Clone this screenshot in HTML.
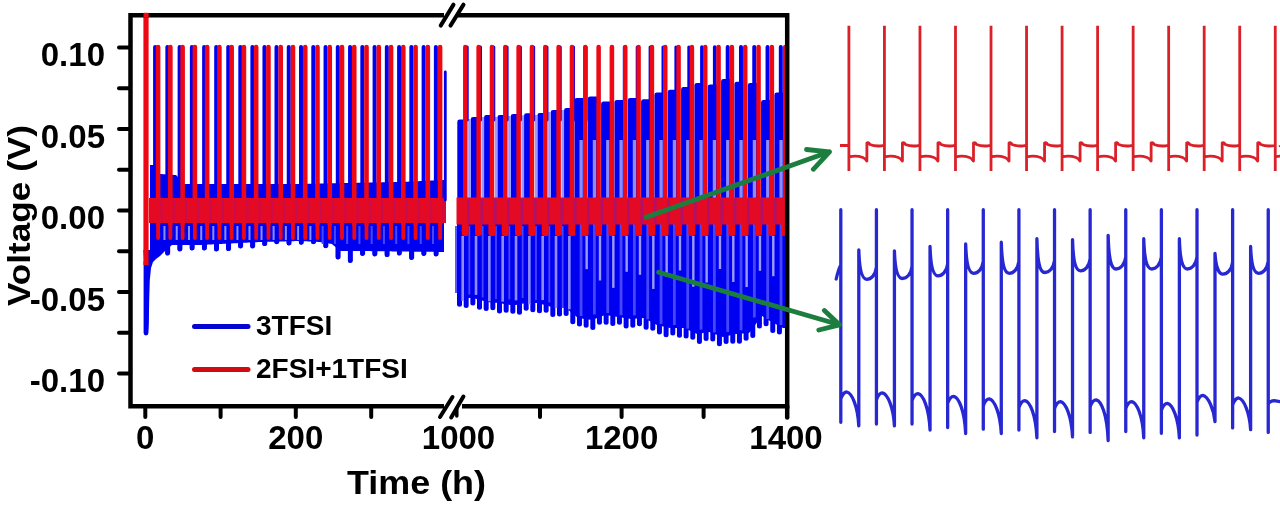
<!DOCTYPE html>
<html><head><meta charset="utf-8"><title>Voltage vs Time</title>
<style>html,body{margin:0;padding:0;background:#fff;} svg{display:block;}</style></head>
<body>
<svg width="1280" height="516" viewBox="0 0 1280 516">
<rect width="1280" height="516" fill="#fff"/>
<path d="M150,165 L151,165 L152,165 L153,165 L154,165 L155,165 L156,165 L157,165 L158,168 L159,171 L160,174 L161,174.06 L162,174.12 L163,174.19 L164,174.25 L165,174.31 L166,174.38 L167,174.44 L168,174.5 L169,174.56 L170,174.62 L171,174.69 L172,174.75 L173,174.81 L174,174.88 L175,174.94 L176,175 L177,176.12 L178,177.25 L179,178.38 L180,179.5 L181,180.62 L182,181.75 L183,182.88 L184,184 L185,184 L186,184 L187,184 L188,184 L189,184 L190,184 L191,184 L192,184 L193,184 L194,184 L195,184 L196,184 L197,184 L198,184 L199,184 L200,184 L201,184 L202,184 L203,184 L204,184 L205,184 L206,184 L207,184 L208,184 L209,184 L210,184 L211,184 L212,184 L213,184 L214,184 L215,184 L216,184 L217,184 L218,184 L219,184 L220,184 L221,184 L222,184 L223,184 L224,184 L225,184 L226,184 L227,184 L228,184 L229,184 L230,184 L231,184 L232,184 L233,184 L234,184 L235,184 L236,184 L237,184 L238,184 L239,184 L240,184 L241,184 L242,184 L243,184 L244,184 L245,184 L246,184 L247,184 L248,184 L249,184 L250,184 L251,184 L252,184 L253,184 L254,184 L255,184 L256,184 L257,184 L258,184 L259,184 L260,184 L261,184 L262,184 L263,184 L264,184 L265,184 L266,184 L267,184 L268,184 L269,184 L270,184 L271,184 L272,184 L273,184 L274,184 L275,184 L276,184 L277,184 L278,184 L279,184 L280,184 L281,184 L282,184 L283,184 L284,184 L285,184 L286,184 L287,184 L288,184 L289,184 L290,184 L291,184 L292,184 L293,184 L294,184 L295,184 L296,184 L297,184 L298,184 L299,184 L300,184 L301,183.98 L302,183.96 L303,183.94 L304,183.92 L305,183.9 L306,183.88 L307,183.86 L308,183.84 L309,183.82 L310,183.8 L311,183.78 L312,183.76 L313,183.74 L314,183.72 L315,183.7 L316,183.68 L317,183.66 L318,183.64 L319,183.62 L320,183.6 L321,183.58 L322,183.56 L323,183.54 L324,183.52 L325,183.5 L326,183.48 L327,183.46 L328,183.44 L329,183.42 L330,183.4 L331,183.38 L332,183.36 L333,183.34 L334,183.32 L335,183.3 L336,183.28 L337,183.26 L338,183.24 L339,183.22 L340,183.2 L341,183.18 L342,183.16 L343,183.14 L344,183.12 L345,183.1 L346,183.08 L347,183.06 L348,183.04 L349,183.02 L350,183 L351,182.98 L352,182.96 L353,182.94 L354,182.92 L355,182.9 L356,182.88 L357,182.86 L358,182.84 L359,182.82 L360,182.8 L361,182.78 L362,182.76 L363,182.74 L364,182.72 L365,182.7 L366,182.68 L367,182.66 L368,182.64 L369,182.62 L370,182.6 L371,182.58 L372,182.56 L373,182.54 L374,182.52 L375,182.5 L376,182.48 L377,182.46 L378,182.44 L379,182.42 L380,182.4 L381,182.38 L382,182.36 L383,182.34 L384,182.32 L385,182.3 L386,182.28 L387,182.26 L388,182.24 L389,182.22 L390,182.2 L391,182.18 L392,182.16 L393,182.14 L394,182.12 L395,182.1 L396,182.08 L397,182.06 L398,182.04 L399,182.02 L400,182 L401,181.96 L402,181.91 L403,181.87 L404,181.82 L405,181.78 L406,181.73 L407,181.69 L408,181.64 L409,181.6 L410,181.56 L411,181.51 L412,181.47 L413,181.42 L414,181.38 L415,181.33 L416,181.29 L417,181.24 L418,181.2 L419,181.16 L420,181.11 L421,181.07 L422,181.02 L423,180.98 L424,180.93 L425,180.89 L426,180.84 L427,180.8 L428,180.76 L429,180.71 L430,180.67 L431,180.62 L432,180.58 L433,180.53 L434,180.49 L435,180.44 L436,180.4 L437,180.36 L438,180.31 L439,180.27 L440,180.22 L441,180.18 L442,180.13 L443,180.09 L444,180.04 L444,251.99 L443,251.98 L442,251.96 L441,251.95 L440,251.94 L439,251.93 L438,251.92 L437,251.91 L436,251.89 L435,251.88 L434,251.87 L433,251.86 L432,251.85 L431,251.84 L430,251.82 L429,251.81 L428,251.8 L427,251.79 L426,251.78 L425,251.76 L424,251.75 L423,251.74 L422,251.73 L421,251.72 L420,251.71 L419,251.69 L418,251.68 L417,251.67 L416,251.66 L415,251.65 L414,251.64 L413,251.62 L412,251.61 L411,251.6 L410,251.59 L409,251.58 L408,251.56 L407,251.55 L406,251.54 L405,251.53 L404,251.52 L403,251.51 L402,251.49 L401,251.48 L400,251.47 L399,251.46 L398,251.45 L397,251.44 L396,251.42 L395,251.41 L394,251.4 L393,251.39 L392,251.38 L391,251.36 L390,251.35 L389,251.34 L388,251.33 L387,251.32 L386,251.31 L385,251.29 L384,251.28 L383,251.27 L382,251.26 L381,251.25 L380,251.24 L379,251.22 L378,251.21 L377,251.2 L376,251.19 L375,251.18 L374,251.16 L373,251.15 L372,251.14 L371,251.13 L370,251.12 L369,251.11 L368,251.09 L367,251.08 L366,251.07 L365,251.06 L364,251.05 L363,251.04 L362,251.02 L361,251.01 L360,251 L359,251 L358,251 L357,251 L356,251 L355,251 L354,251 L353,251 L352,251 L351,251 L350,251 L349,251 L348,251 L347,251 L346,251 L345,251 L344,251 L343,251 L342,251 L341,251 L340,251 L339,250.12 L338,249.25 L337,248.38 L336,247.5 L335,246.62 L334,245.75 L333,244.88 L332,244 L331,243.83 L330,243.67 L329,243.5 L328,243.33 L327,243.17 L326,243 L325,242.83 L324,242.67 L323,242.5 L322,242.33 L321,242.17 L320,242 L319,241.95 L318,241.9 L317,241.85 L316,241.8 L315,241.75 L314,241.7 L313,241.65 L312,241.6 L311,241.55 L310,241.5 L309,241.45 L308,241.4 L307,241.35 L306,241.3 L305,241.25 L304,241.2 L303,241.15 L302,241.1 L301,241.05 L300,241 L299,241.03 L298,241.05 L297,241.07 L296,241.1 L295,241.12 L294,241.15 L293,241.18 L292,241.2 L291,241.22 L290,241.25 L289,241.28 L288,241.3 L287,241.32 L286,241.35 L285,241.38 L284,241.4 L283,241.43 L282,241.45 L281,241.47 L280,241.5 L279,241.53 L278,241.55 L277,241.57 L276,241.6 L275,241.62 L274,241.65 L273,241.68 L272,241.7 L271,241.72 L270,241.75 L269,241.78 L268,241.8 L267,241.82 L266,241.85 L265,241.88 L264,241.9 L263,241.93 L262,241.95 L261,241.97 L260,242 L259,242.05 L258,242.1 L257,242.15 L256,242.2 L255,242.25 L254,242.3 L253,242.35 L252,242.4 L251,242.45 L250,242.5 L249,242.55 L248,242.6 L247,242.65 L246,242.7 L245,242.75 L244,242.8 L243,242.85 L242,242.9 L241,242.95 L240,243 L239,243.05 L238,243.1 L237,243.15 L236,243.2 L235,243.25 L234,243.3 L233,243.35 L232,243.4 L231,243.45 L230,243.5 L229,243.55 L228,243.6 L227,243.65 L226,243.7 L225,243.75 L224,243.8 L223,243.85 L222,243.9 L221,243.95 L220,244 L219,244.05 L218,244.1 L217,244.15 L216,244.2 L215,244.25 L214,244.3 L213,244.35 L212,244.4 L211,244.45 L210,244.5 L209,244.55 L208,244.6 L207,244.65 L206,244.7 L205,244.75 L204,244.8 L203,244.85 L202,244.9 L201,244.95 L200,245 L199,245 L198,245 L197,245 L196,245 L195,245 L194,245 L193,245 L192,245 L191,245 L190,245 L189,245 L188,245 L187,245 L186,245 L185,245 L184,245 L183,245 L182,245 L181,245 L180,245 L179,245 L178,245 L177,245 L176,245 L175,245 L174,245 L173,245 L172,245 L171,245.83 L170,246.67 L169,247.5 L168,248.33 L167,249.17 L166,250 L165,251 L164,252 L163,253 L162,254 L161,255 L160,256 L159,256.1 L158,256.2 L157,256.3 L156,256.4 L155,256.5 L154,256.6 L153,256.7 L152,256.8 L151,256.9 L150,257Z" fill="#0000f0"/>
<line x1="155.1" y1="47" x2="155.1" y2="254.5" stroke="#0000f0" stroke-width="4" stroke-linecap="round"/>
<line x1="155.4" y1="236" x2="155.4" y2="253.8" stroke="#0000f0" stroke-width="5" stroke-linecap="round"/>
<line x1="167.36" y1="47" x2="167.36" y2="253.5" stroke="#0000f0" stroke-width="4" stroke-linecap="round"/>
<line x1="167.66" y1="236" x2="167.66" y2="252.8" stroke="#0000f0" stroke-width="5" stroke-linecap="round"/>
<line x1="179.62" y1="47" x2="179.62" y2="249.5" stroke="#0000f0" stroke-width="4" stroke-linecap="round"/>
<line x1="179.92" y1="236" x2="179.92" y2="248.8" stroke="#0000f0" stroke-width="5" stroke-linecap="round"/>
<line x1="191.88" y1="47" x2="191.88" y2="248.5" stroke="#0000f0" stroke-width="4" stroke-linecap="round"/>
<line x1="192.18" y1="236" x2="192.18" y2="247.8" stroke="#0000f0" stroke-width="5" stroke-linecap="round"/>
<line x1="204.14" y1="47" x2="204.14" y2="248.5" stroke="#0000f0" stroke-width="4" stroke-linecap="round"/>
<line x1="204.44" y1="236" x2="204.44" y2="247.8" stroke="#0000f0" stroke-width="5" stroke-linecap="round"/>
<line x1="216.2" y1="47" x2="216.2" y2="249.5" stroke="#0000f0" stroke-width="4" stroke-linecap="round"/>
<line x1="216.5" y1="236" x2="216.5" y2="248.8" stroke="#0000f0" stroke-width="5" stroke-linecap="round"/>
<line x1="228.26" y1="47" x2="228.26" y2="249.1" stroke="#0000f0" stroke-width="4" stroke-linecap="round"/>
<line x1="228.56" y1="236" x2="228.56" y2="248.4" stroke="#0000f0" stroke-width="5" stroke-linecap="round"/>
<line x1="240.32" y1="47" x2="240.32" y2="246.5" stroke="#0000f0" stroke-width="4" stroke-linecap="round"/>
<line x1="240.62" y1="236" x2="240.62" y2="245.8" stroke="#0000f0" stroke-width="5" stroke-linecap="round"/>
<line x1="252.38" y1="47" x2="252.38" y2="246.5" stroke="#0000f0" stroke-width="4" stroke-linecap="round"/>
<line x1="252.68" y1="236" x2="252.68" y2="245.8" stroke="#0000f0" stroke-width="5" stroke-linecap="round"/>
<line x1="264.44" y1="47" x2="264.44" y2="244.1" stroke="#0000f0" stroke-width="4" stroke-linecap="round"/>
<line x1="264.74" y1="236" x2="264.74" y2="243.4" stroke="#0000f0" stroke-width="5" stroke-linecap="round"/>
<line x1="276.5" y1="47" x2="276.5" y2="242.3" stroke="#0000f0" stroke-width="4" stroke-linecap="round"/>
<line x1="276.8" y1="236" x2="276.8" y2="241.6" stroke="#0000f0" stroke-width="5" stroke-linecap="round"/>
<line x1="288.76" y1="47" x2="288.76" y2="243.5" stroke="#0000f0" stroke-width="4" stroke-linecap="round"/>
<line x1="289.06" y1="236" x2="289.06" y2="242.8" stroke="#0000f0" stroke-width="5" stroke-linecap="round"/>
<line x1="301.02" y1="47" x2="301.02" y2="242.8" stroke="#0000f0" stroke-width="4" stroke-linecap="round"/>
<line x1="301.32" y1="236" x2="301.32" y2="242.1" stroke="#0000f0" stroke-width="5" stroke-linecap="round"/>
<line x1="313.28" y1="47" x2="313.28" y2="242.2" stroke="#0000f0" stroke-width="4" stroke-linecap="round"/>
<line x1="313.58" y1="236" x2="313.58" y2="241.5" stroke="#0000f0" stroke-width="5" stroke-linecap="round"/>
<line x1="325.54" y1="47" x2="325.54" y2="246.3" stroke="#0000f0" stroke-width="4" stroke-linecap="round"/>
<line x1="325.84" y1="236" x2="325.84" y2="245.6" stroke="#0000f0" stroke-width="5" stroke-linecap="round"/>
<line x1="337.8" y1="47" x2="337.8" y2="257.5" stroke="#0000f0" stroke-width="4" stroke-linecap="round"/>
<line x1="338.1" y1="236" x2="338.1" y2="256.8" stroke="#0000f0" stroke-width="5" stroke-linecap="round"/>
<line x1="350.06" y1="47" x2="350.06" y2="261" stroke="#0000f0" stroke-width="4" stroke-linecap="round"/>
<line x1="350.36" y1="236" x2="350.36" y2="260.3" stroke="#0000f0" stroke-width="5" stroke-linecap="round"/>
<line x1="362.32" y1="47" x2="362.32" y2="253.9" stroke="#0000f0" stroke-width="4" stroke-linecap="round"/>
<line x1="362.62" y1="236" x2="362.62" y2="253.2" stroke="#0000f0" stroke-width="5" stroke-linecap="round"/>
<line x1="374.58" y1="47" x2="374.58" y2="254.5" stroke="#0000f0" stroke-width="4" stroke-linecap="round"/>
<line x1="374.88" y1="236" x2="374.88" y2="253.8" stroke="#0000f0" stroke-width="5" stroke-linecap="round"/>
<line x1="386.84" y1="47" x2="386.84" y2="255.1" stroke="#0000f0" stroke-width="4" stroke-linecap="round"/>
<line x1="387.14" y1="236" x2="387.14" y2="254.4" stroke="#0000f0" stroke-width="5" stroke-linecap="round"/>
<line x1="399.1" y1="47" x2="399.1" y2="253.5" stroke="#0000f0" stroke-width="4" stroke-linecap="round"/>
<line x1="399.4" y1="236" x2="399.4" y2="252.8" stroke="#0000f0" stroke-width="5" stroke-linecap="round"/>
<line x1="411.36" y1="47" x2="411.36" y2="258" stroke="#0000f0" stroke-width="4" stroke-linecap="round"/>
<line x1="411.66" y1="236" x2="411.66" y2="257.3" stroke="#0000f0" stroke-width="5" stroke-linecap="round"/>
<line x1="423.62" y1="47" x2="423.62" y2="253.9" stroke="#0000f0" stroke-width="4" stroke-linecap="round"/>
<line x1="423.92" y1="236" x2="423.92" y2="253.2" stroke="#0000f0" stroke-width="5" stroke-linecap="round"/>
<line x1="435.88" y1="47" x2="435.88" y2="254.5" stroke="#0000f0" stroke-width="4" stroke-linecap="round"/>
<line x1="436.18" y1="236" x2="436.18" y2="253.8" stroke="#0000f0" stroke-width="5" stroke-linecap="round"/>
<rect x="163.46" y="226" width="2" height="14" fill="#8c8cff"/>
<rect x="175.72" y="226" width="2" height="14" fill="#8c8cff"/>
<rect x="187.98" y="226" width="2" height="14" fill="#8c8cff"/>
<rect x="200.24" y="226" width="2" height="14" fill="#8c8cff"/>
<rect x="212.3" y="226" width="2" height="14" fill="#8c8cff"/>
<rect x="224.36" y="226" width="2" height="14" fill="#8c8cff"/>
<rect x="236.42" y="226" width="2" height="14" fill="#8c8cff"/>
<rect x="248.48" y="226" width="2" height="14" fill="#8c8cff"/>
<rect x="260.54" y="226" width="2" height="14" fill="#8c8cff"/>
<rect x="272.6" y="226" width="2" height="14" fill="#8c8cff"/>
<rect x="284.86" y="226" width="2" height="14" fill="#8c8cff"/>
<rect x="297.12" y="226" width="2" height="14" fill="#8c8cff"/>
<rect x="309.38" y="226" width="2" height="14" fill="#8c8cff"/>
<rect x="321.64" y="226" width="2" height="18" fill="#4646ff"/>
<rect x="333.9" y="226" width="2" height="18" fill="#4646ff"/>
<rect x="346.16" y="226" width="2" height="18" fill="#4646ff"/>
<rect x="358.42" y="226" width="2" height="18" fill="#4646ff"/>
<rect x="370.68" y="226" width="2" height="18" fill="#4646ff"/>
<rect x="382.94" y="226" width="2" height="18" fill="#4646ff"/>
<rect x="395.2" y="226" width="2" height="18" fill="#4646ff"/>
<rect x="407.46" y="226" width="2" height="18" fill="#4646ff"/>
<rect x="419.72" y="226" width="2" height="18" fill="#4646ff"/>
<rect x="431.98" y="226" width="2" height="18" fill="#4646ff"/>
<line x1="158.1" y1="47" x2="158.1" y2="224" stroke="#ee0814" stroke-width="4.6" stroke-linecap="round"/>
<line x1="158.1" y1="222" x2="158.1" y2="238" stroke="#ee0814" stroke-width="3.8" stroke-linecap="round"/>
<line x1="170.36" y1="47" x2="170.36" y2="224" stroke="#ee0814" stroke-width="4.6" stroke-linecap="round"/>
<line x1="170.36" y1="222" x2="170.36" y2="238" stroke="#ee0814" stroke-width="3.8" stroke-linecap="round"/>
<line x1="182.62" y1="47" x2="182.62" y2="224" stroke="#ee0814" stroke-width="4.6" stroke-linecap="round"/>
<line x1="182.62" y1="222" x2="182.62" y2="238" stroke="#ee0814" stroke-width="3.8" stroke-linecap="round"/>
<line x1="194.88" y1="47" x2="194.88" y2="224" stroke="#ee0814" stroke-width="4.6" stroke-linecap="round"/>
<line x1="194.88" y1="222" x2="194.88" y2="238" stroke="#ee0814" stroke-width="3.8" stroke-linecap="round"/>
<line x1="207.14" y1="47" x2="207.14" y2="224" stroke="#ee0814" stroke-width="4.6" stroke-linecap="round"/>
<line x1="207.14" y1="222" x2="207.14" y2="238" stroke="#ee0814" stroke-width="3.8" stroke-linecap="round"/>
<line x1="219.4" y1="47" x2="219.4" y2="224" stroke="#ee0814" stroke-width="4.6" stroke-linecap="round"/>
<line x1="219.4" y1="222" x2="219.4" y2="238" stroke="#ee0814" stroke-width="3.8" stroke-linecap="round"/>
<line x1="231.66" y1="47" x2="231.66" y2="224" stroke="#ee0814" stroke-width="4.6" stroke-linecap="round"/>
<line x1="231.66" y1="222" x2="231.66" y2="238" stroke="#ee0814" stroke-width="3.8" stroke-linecap="round"/>
<line x1="243.92" y1="47" x2="243.92" y2="224" stroke="#ee0814" stroke-width="4.6" stroke-linecap="round"/>
<line x1="243.92" y1="222" x2="243.92" y2="238" stroke="#ee0814" stroke-width="3.8" stroke-linecap="round"/>
<line x1="256.18" y1="47" x2="256.18" y2="224" stroke="#ee0814" stroke-width="4.6" stroke-linecap="round"/>
<line x1="256.18" y1="222" x2="256.18" y2="238" stroke="#ee0814" stroke-width="3.8" stroke-linecap="round"/>
<line x1="268.44" y1="47" x2="268.44" y2="224" stroke="#ee0814" stroke-width="4.6" stroke-linecap="round"/>
<line x1="268.44" y1="222" x2="268.44" y2="238" stroke="#ee0814" stroke-width="3.8" stroke-linecap="round"/>
<line x1="280.7" y1="47" x2="280.7" y2="224" stroke="#ee0814" stroke-width="4.6" stroke-linecap="round"/>
<line x1="280.7" y1="222" x2="280.7" y2="238" stroke="#ee0814" stroke-width="3.8" stroke-linecap="round"/>
<line x1="292.96" y1="47" x2="292.96" y2="224" stroke="#ee0814" stroke-width="4.6" stroke-linecap="round"/>
<line x1="292.96" y1="222" x2="292.96" y2="238" stroke="#ee0814" stroke-width="3.8" stroke-linecap="round"/>
<line x1="305.22" y1="47" x2="305.22" y2="224" stroke="#ee0814" stroke-width="4.6" stroke-linecap="round"/>
<line x1="305.22" y1="222" x2="305.22" y2="238" stroke="#ee0814" stroke-width="3.8" stroke-linecap="round"/>
<line x1="317.48" y1="47" x2="317.48" y2="224" stroke="#ee0814" stroke-width="4.6" stroke-linecap="round"/>
<line x1="317.48" y1="222" x2="317.48" y2="238" stroke="#ee0814" stroke-width="3.8" stroke-linecap="round"/>
<line x1="329.74" y1="47" x2="329.74" y2="224" stroke="#ee0814" stroke-width="4.6" stroke-linecap="round"/>
<line x1="329.74" y1="222" x2="329.74" y2="238" stroke="#ee0814" stroke-width="3.8" stroke-linecap="round"/>
<line x1="342" y1="47" x2="342" y2="224" stroke="#ee0814" stroke-width="4.6" stroke-linecap="round"/>
<line x1="342" y1="222" x2="342" y2="238" stroke="#ee0814" stroke-width="3.8" stroke-linecap="round"/>
<line x1="354.26" y1="47" x2="354.26" y2="224" stroke="#ee0814" stroke-width="4.6" stroke-linecap="round"/>
<line x1="354.26" y1="222" x2="354.26" y2="238" stroke="#ee0814" stroke-width="3.8" stroke-linecap="round"/>
<line x1="366.52" y1="47" x2="366.52" y2="224" stroke="#ee0814" stroke-width="4.6" stroke-linecap="round"/>
<line x1="366.52" y1="222" x2="366.52" y2="238" stroke="#ee0814" stroke-width="3.8" stroke-linecap="round"/>
<line x1="378.78" y1="47" x2="378.78" y2="224" stroke="#ee0814" stroke-width="4.6" stroke-linecap="round"/>
<line x1="378.78" y1="222" x2="378.78" y2="238" stroke="#ee0814" stroke-width="3.8" stroke-linecap="round"/>
<line x1="391.04" y1="47" x2="391.04" y2="224" stroke="#ee0814" stroke-width="4.6" stroke-linecap="round"/>
<line x1="391.04" y1="222" x2="391.04" y2="238" stroke="#ee0814" stroke-width="3.8" stroke-linecap="round"/>
<line x1="403.3" y1="47" x2="403.3" y2="224" stroke="#ee0814" stroke-width="4.6" stroke-linecap="round"/>
<line x1="403.3" y1="222" x2="403.3" y2="238" stroke="#ee0814" stroke-width="3.8" stroke-linecap="round"/>
<line x1="415.56" y1="47" x2="415.56" y2="224" stroke="#ee0814" stroke-width="4.6" stroke-linecap="round"/>
<line x1="415.56" y1="222" x2="415.56" y2="238" stroke="#ee0814" stroke-width="3.8" stroke-linecap="round"/>
<line x1="427.82" y1="47" x2="427.82" y2="224" stroke="#ee0814" stroke-width="4.6" stroke-linecap="round"/>
<line x1="427.82" y1="222" x2="427.82" y2="238" stroke="#ee0814" stroke-width="3.8" stroke-linecap="round"/>
<line x1="440.08" y1="47" x2="440.08" y2="224" stroke="#ee0814" stroke-width="4.6" stroke-linecap="round"/>
<line x1="440.08" y1="222" x2="440.08" y2="238" stroke="#ee0814" stroke-width="3.8" stroke-linecap="round"/>
<rect x="149" y="198" width="297" height="25" fill="#e40a24"/>
<rect x="160.5" y="199" width="2" height="23" fill="#c80c50"/>
<rect x="172.76" y="199" width="2" height="23" fill="#c80c50"/>
<rect x="185.02" y="199" width="2" height="23" fill="#c80c50"/>
<rect x="197.28" y="199" width="2" height="23" fill="#c80c50"/>
<rect x="209.54" y="199" width="2" height="23" fill="#c80c50"/>
<rect x="221.8" y="199" width="2" height="23" fill="#c80c50"/>
<rect x="234.06" y="199" width="2" height="23" fill="#c80c50"/>
<rect x="246.32" y="199" width="2" height="23" fill="#c80c50"/>
<rect x="258.58" y="199" width="2" height="23" fill="#c80c50"/>
<rect x="270.84" y="199" width="2" height="23" fill="#c80c50"/>
<rect x="283.1" y="199" width="2" height="23" fill="#c80c50"/>
<rect x="295.36" y="199" width="2" height="23" fill="#c80c50"/>
<rect x="307.62" y="199" width="2" height="23" fill="#c80c50"/>
<rect x="319.88" y="199" width="2" height="23" fill="#c80c50"/>
<rect x="332.14" y="199" width="2" height="23" fill="#c80c50"/>
<rect x="344.4" y="199" width="2" height="23" fill="#c80c50"/>
<rect x="356.66" y="199" width="2" height="23" fill="#c80c50"/>
<rect x="368.92" y="199" width="2" height="23" fill="#c80c50"/>
<rect x="381.18" y="199" width="2" height="23" fill="#c80c50"/>
<rect x="393.44" y="199" width="2" height="23" fill="#c80c50"/>
<rect x="405.7" y="199" width="2" height="23" fill="#c80c50"/>
<rect x="417.96" y="199" width="2" height="23" fill="#c80c50"/>
<rect x="430.22" y="199" width="2" height="23" fill="#c80c50"/>
<rect x="442.48" y="199" width="2" height="23" fill="#c80c50"/>
<path d="M143.4,250 L160,250 L160,256 L156,259 L153,262 L151,268 L149.8,280 L149.2,300 L148.6,333Z" fill="#0000f0"/>
<line x1="146" y1="262" x2="146" y2="333" stroke="#0000f0" stroke-width="4.8" stroke-linecap="round"/>
<line x1="146" y1="15" x2="146" y2="265" stroke="#ee0814" stroke-width="5.2" stroke-linecap="butt"/>
<rect x="457.3" y="119.5" width="8.5" height="106.5" fill="#0000f0" rx="2.4"/>
<rect x="470.73" y="117" width="8.4" height="109" fill="#0000f0" rx="2.4"/>
<rect x="468.2" y="119" width="2.53" height="107" fill="#9c98ff"/>
<rect x="484.06" y="115" width="8.4" height="111" fill="#0000f0" rx="2.4"/>
<rect x="481.53" y="117" width="2.53" height="109" fill="#9c98ff"/>
<rect x="497.39" y="115" width="8.4" height="111" fill="#0000f0" rx="2.4"/>
<rect x="494.86" y="117" width="2.53" height="109" fill="#9c98ff"/>
<rect x="510.72" y="114" width="8.4" height="112" fill="#0000f0" rx="2.4"/>
<rect x="508.19" y="116" width="2.53" height="110" fill="#9c98ff"/>
<rect x="524.05" y="113.3" width="8.4" height="112.7" fill="#0000f0" rx="2.4"/>
<rect x="521.52" y="115.3" width="2.53" height="110.7" fill="#9c98ff"/>
<rect x="537.38" y="113" width="8.4" height="113" fill="#0000f0" rx="2.4"/>
<rect x="534.85" y="115" width="2.53" height="111" fill="#9c98ff"/>
<rect x="550.71" y="110" width="8.4" height="116" fill="#0000f0" rx="2.4"/>
<rect x="548.18" y="112" width="2.53" height="114" fill="#9c98ff"/>
<rect x="564.04" y="108" width="8.4" height="118" fill="#0000f0" rx="2.4"/>
<rect x="561.51" y="110" width="2.53" height="116" fill="#9c98ff"/>
<rect x="574.44" y="98" width="11.33" height="128" fill="#0000f0" rx="2.4"/>
<rect x="579.47" y="140" width="3.3" height="84" fill="#8c8cff"/>
<rect x="587.77" y="96.6" width="11.33" height="129.4" fill="#0000f0" rx="2.4"/>
<rect x="592.8" y="140" width="3.3" height="84" fill="#8c8cff"/>
<rect x="601.1" y="101.6" width="11.33" height="124.4" fill="#0000f0" rx="2.4"/>
<rect x="606.13" y="140" width="3.3" height="84" fill="#8c8cff"/>
<rect x="614.43" y="100" width="11.33" height="126" fill="#0000f0" rx="2.4"/>
<rect x="619.46" y="140" width="3.3" height="84" fill="#8c8cff"/>
<rect x="627.76" y="98" width="11.33" height="128" fill="#0000f0" rx="2.4"/>
<rect x="632.79" y="140" width="3.3" height="84" fill="#8c8cff"/>
<rect x="641.09" y="99.3" width="11.33" height="126.7" fill="#0000f0" rx="2.4"/>
<rect x="646.12" y="140" width="3.3" height="84" fill="#8c8cff"/>
<rect x="654.42" y="92.5" width="11.33" height="133.5" fill="#0000f0" rx="2.4"/>
<rect x="659.45" y="140" width="3.3" height="84" fill="#8c8cff"/>
<rect x="667.75" y="89.8" width="11.33" height="136.2" fill="#0000f0" rx="2.4"/>
<rect x="672.78" y="140" width="3.3" height="84" fill="#8c8cff"/>
<rect x="681.08" y="87" width="11.33" height="139" fill="#0000f0" rx="2.4"/>
<rect x="686.11" y="140" width="3.3" height="84" fill="#8c8cff"/>
<rect x="694.41" y="83" width="11.33" height="143" fill="#0000f0" rx="2.4"/>
<rect x="699.44" y="140" width="3.3" height="84" fill="#8c8cff"/>
<rect x="707.74" y="84.4" width="11.33" height="141.6" fill="#0000f0" rx="2.4"/>
<rect x="712.77" y="140" width="3.3" height="84" fill="#8c8cff"/>
<rect x="721.07" y="79" width="11.33" height="147" fill="#0000f0" rx="2.4"/>
<rect x="726.1" y="140" width="3.3" height="84" fill="#8c8cff"/>
<rect x="734.4" y="81.7" width="11.33" height="144.3" fill="#0000f0" rx="2.4"/>
<rect x="739.43" y="140" width="3.3" height="84" fill="#8c8cff"/>
<rect x="747.73" y="83" width="11.33" height="143" fill="#0000f0" rx="2.4"/>
<rect x="752.76" y="140" width="3.3" height="84" fill="#8c8cff"/>
<rect x="761.06" y="100" width="11.33" height="126" fill="#0000f0" rx="2.4"/>
<rect x="766.09" y="140" width="3.3" height="84" fill="#8c8cff"/>
<rect x="774.39" y="92.5" width="11.33" height="133.5" fill="#0000f0" rx="2.4"/>
<rect x="779.42" y="140" width="3.3" height="84" fill="#8c8cff"/>
<path d="M457,222 L786,222 L786,328 L785,328 L784,328 L783,328 L782,327.46 L781,326.92 L780,326.38 L779,325.85 L778,325.31 L777,324.77 L776,324.23 L775,323.69 L774,323.15 L773,322.62 L772,322.08 L771,321.54 L770,321 L769,320.38 L768,319.75 L767,319.12 L766,318.5 L765,317.88 L764,317.25 L763,316.62 L762,316 L761,317.31 L760,318.62 L759,319.92 L758,321.23 L757,322.54 L756,323.85 L755,325.15 L754,326.46 L753,327.77 L752,329.08 L751,330.38 L750,331.69 L749,333 L748,333.08 L747,333.15 L746,333.23 L745,333.31 L744,333.38 L743,333.46 L742,333.54 L741,333.62 L740,333.69 L739,333.77 L738,333.85 L737,333.92 L736,334 L735,334.23 L734,334.46 L733,334.69 L732,334.92 L731,335.15 L730,335.38 L729,335.62 L728,335.85 L727,336.08 L726,336.31 L725,336.54 L724,336.77 L723,337 L722,336.64 L721,336.29 L720,335.93 L719,335.57 L718,335.21 L717,334.86 L716,334.5 L715,334.14 L714,333.79 L713,333.43 L712,333.07 L711,332.71 L710,332.36 L709,332 L708,332.17 L707,332.33 L706,332.5 L705,332.67 L704,332.83 L703,333 L702,333.17 L701,333.33 L700,333.5 L699,333.67 L698,333.83 L697,334 L696,333.54 L695,333.08 L694,332.62 L693,332.15 L692,331.69 L691,331.23 L690,330.77 L689,330.31 L688,329.85 L687,329.38 L686,328.92 L685,328.46 L684,328 L683,328 L682,328 L681,328 L680,328 L679,328 L678,328 L677,328 L676,328 L675,328 L674,328 L673,328 L672,328 L671,328 L670,328 L669,327.77 L668,327.54 L667,327.31 L666,327.08 L665,326.85 L664,326.62 L663,326.38 L662,326.15 L661,325.92 L660,325.69 L659,325.46 L658,325.23 L657,325 L656,324.46 L655,323.92 L654,323.38 L653,322.85 L652,322.31 L651,321.77 L650,321.23 L649,320.69 L648,320.15 L647,319.62 L646,319.08 L645,318.54 L644,318 L643,318.08 L642,318.15 L641,318.23 L640,318.31 L639,318.38 L638,318.46 L637,318.54 L636,318.62 L635,318.69 L634,318.77 L633,318.85 L632,318.92 L631,319 L630,318.85 L629,318.69 L628,318.54 L627,318.38 L626,318.23 L625,318.08 L624,317.92 L623,317.77 L622,317.62 L621,317.46 L620,317.31 L619,317.15 L618,317 L617,316.85 L616,316.69 L615,316.54 L614,316.38 L613,316.23 L612,316.08 L611,315.92 L610,315.77 L609,315.62 L608,315.46 L607,315.31 L606,315.15 L605,315 L604,315.38 L603,315.77 L602,316.15 L601,316.54 L600,316.92 L599,317.31 L598,317.69 L597,318.08 L596,318.46 L595,318.85 L594,319.23 L593,319.62 L592,320 L591,319.86 L590,319.71 L589,319.57 L588,319.43 L587,319.29 L586,319.14 L585,319 L584,318.86 L583,318.71 L582,318.57 L581,318.43 L580,318.29 L579,318.14 L578,318 L577,317.17 L576,316.33 L575,315.5 L574,314.67 L573,313.83 L572,313 L571,312.17 L570,311.33 L569,310.5 L568,309.67 L567,308.83 L566,308 L565,307.93 L564,307.86 L563,307.79 L562,307.71 L561,307.64 L560,307.57 L559,307.5 L558,307.43 L557,307.36 L556,307.29 L555,307.21 L554,307.14 L553,307.07 L552,307 L551,306.71 L550,306.43 L549,306.14 L548,305.86 L547,305.57 L546,305.29 L545,305 L544,304.71 L543,304.43 L542,304.14 L541,303.86 L540,303.57 L539,303.29 L538,303 L537,303 L536,303 L535,303 L534,303 L533,303 L532,303 L531,303 L530,303 L529,303 L528,303 L527,303 L526,303 L525,303.19 L524,303.38 L523,303.58 L522,303.77 L521,303.96 L520,304.15 L519,304.35 L518,304.54 L517,304.73 L516,304.92 L515,305.12 L514,305.31 L513,305.5 L512,305.32 L511,305.14 L510,304.96 L509,304.79 L508,304.61 L507,304.43 L506,304.25 L505,304.07 L504,303.89 L503,303.71 L502,303.54 L501,303.36 L500,303.18 L499,303 L498,302.92 L497,302.83 L496,302.75 L495,302.67 L494,302.58 L493,302.5 L492,302.42 L491,302.33 L490,302.25 L489,302.17 L488,302.08 L487,302 L486,301.71 L485,301.43 L484,301.14 L483,300.86 L482,300.57 L481,300.29 L480,300 L479,299.71 L478,299.43 L477,299.14 L476,298.86 L475,298.57 L474,298.29 L473,298 L472,298 L471,298 L470,298 L469,298 L468,298 L467,298 L466,298 L465,298 L464,298 L463,298 L462,298 L461,298 L460,298 L459,297.6 L458,297.2 L457,296.8Z" fill="#0000f0"/>
<line x1="459.5" y1="228" x2="459.5" y2="304.3" stroke="#0000f0" stroke-width="5" stroke-linecap="round"/>
<line x1="466.17" y1="228" x2="466.17" y2="305.62" stroke="#0000f0" stroke-width="5" stroke-linecap="round"/>
<line x1="472.83" y1="228" x2="472.83" y2="303.01" stroke="#0000f0" stroke-width="5" stroke-linecap="round"/>
<line x1="479.5" y1="228" x2="479.5" y2="307.22" stroke="#0000f0" stroke-width="5" stroke-linecap="round"/>
<line x1="486.16" y1="228" x2="486.16" y2="308.59" stroke="#0000f0" stroke-width="5" stroke-linecap="round"/>
<line x1="492.83" y1="228" x2="492.83" y2="307.67" stroke="#0000f0" stroke-width="5" stroke-linecap="round"/>
<line x1="499.49" y1="228" x2="499.49" y2="311" stroke="#0000f0" stroke-width="5" stroke-linecap="round"/>
<line x1="506.16" y1="228" x2="506.16" y2="310.2" stroke="#0000f0" stroke-width="5" stroke-linecap="round"/>
<line x1="512.82" y1="228" x2="512.82" y2="311.32" stroke="#0000f0" stroke-width="5" stroke-linecap="round"/>
<line x1="519.49" y1="228" x2="519.49" y2="312.19" stroke="#0000f0" stroke-width="5" stroke-linecap="round"/>
<line x1="526.15" y1="228" x2="526.15" y2="308.23" stroke="#0000f0" stroke-width="5" stroke-linecap="round"/>
<line x1="532.82" y1="228" x2="532.82" y2="309.75" stroke="#0000f0" stroke-width="5" stroke-linecap="round"/>
<line x1="539.48" y1="228" x2="539.48" y2="310.86" stroke="#0000f0" stroke-width="5" stroke-linecap="round"/>
<line x1="546.14" y1="228" x2="546.14" y2="310.33" stroke="#0000f0" stroke-width="5" stroke-linecap="round"/>
<line x1="552.81" y1="228" x2="552.81" y2="314.62" stroke="#0000f0" stroke-width="5" stroke-linecap="round"/>
<line x1="559.47" y1="228" x2="559.47" y2="314.12" stroke="#0000f0" stroke-width="5" stroke-linecap="round"/>
<line x1="566.14" y1="228" x2="566.14" y2="313.44" stroke="#0000f0" stroke-width="5" stroke-linecap="round"/>
<line x1="572.8" y1="228" x2="572.8" y2="321.65" stroke="#0000f0" stroke-width="5" stroke-linecap="round"/>
<line x1="579.47" y1="228" x2="579.47" y2="323.91" stroke="#0000f0" stroke-width="5" stroke-linecap="round"/>
<line x1="586.13" y1="228" x2="586.13" y2="325.24" stroke="#0000f0" stroke-width="5" stroke-linecap="round"/>
<line x1="592.8" y1="228" x2="592.8" y2="327.54" stroke="#0000f0" stroke-width="5" stroke-linecap="round"/>
<line x1="599.46" y1="228" x2="599.46" y2="322.24" stroke="#0000f0" stroke-width="5" stroke-linecap="round"/>
<line x1="606.13" y1="228" x2="606.13" y2="322.17" stroke="#0000f0" stroke-width="5" stroke-linecap="round"/>
<line x1="612.79" y1="228" x2="612.79" y2="323.43" stroke="#0000f0" stroke-width="5" stroke-linecap="round"/>
<line x1="619.46" y1="228" x2="619.46" y2="322.26" stroke="#0000f0" stroke-width="5" stroke-linecap="round"/>
<line x1="626.12" y1="228" x2="626.12" y2="325.97" stroke="#0000f0" stroke-width="5" stroke-linecap="round"/>
<line x1="632.79" y1="228" x2="632.79" y2="325.2" stroke="#0000f0" stroke-width="5" stroke-linecap="round"/>
<line x1="639.45" y1="228" x2="639.45" y2="323.85" stroke="#0000f0" stroke-width="5" stroke-linecap="round"/>
<line x1="646.12" y1="228" x2="646.12" y2="327.14" stroke="#0000f0" stroke-width="5" stroke-linecap="round"/>
<line x1="652.78" y1="228" x2="652.78" y2="328.23" stroke="#0000f0" stroke-width="5" stroke-linecap="round"/>
<line x1="659.45" y1="228" x2="659.45" y2="331.89" stroke="#0000f0" stroke-width="5" stroke-linecap="round"/>
<line x1="666.11" y1="228" x2="666.11" y2="334.83" stroke="#0000f0" stroke-width="5" stroke-linecap="round"/>
<line x1="672.78" y1="228" x2="672.78" y2="333.04" stroke="#0000f0" stroke-width="5" stroke-linecap="round"/>
<line x1="679.44" y1="228" x2="679.44" y2="335.22" stroke="#0000f0" stroke-width="5" stroke-linecap="round"/>
<line x1="686.11" y1="228" x2="686.11" y2="335.97" stroke="#0000f0" stroke-width="5" stroke-linecap="round"/>
<line x1="692.77" y1="228" x2="692.77" y2="337.16" stroke="#0000f0" stroke-width="5" stroke-linecap="round"/>
<line x1="699.44" y1="228" x2="699.44" y2="341.44" stroke="#0000f0" stroke-width="5" stroke-linecap="round"/>
<line x1="706.1" y1="228" x2="706.1" y2="338.57" stroke="#0000f0" stroke-width="5" stroke-linecap="round"/>
<line x1="712.77" y1="228" x2="712.77" y2="339.04" stroke="#0000f0" stroke-width="5" stroke-linecap="round"/>
<line x1="719.43" y1="228" x2="719.43" y2="343.71" stroke="#0000f0" stroke-width="5" stroke-linecap="round"/>
<line x1="726.1" y1="228" x2="726.1" y2="341.62" stroke="#0000f0" stroke-width="5" stroke-linecap="round"/>
<line x1="732.76" y1="228" x2="732.76" y2="341.32" stroke="#0000f0" stroke-width="5" stroke-linecap="round"/>
<line x1="739.43" y1="228" x2="739.43" y2="341.3" stroke="#0000f0" stroke-width="5" stroke-linecap="round"/>
<line x1="746.09" y1="228" x2="746.09" y2="338.23" stroke="#0000f0" stroke-width="5" stroke-linecap="round"/>
<line x1="752.76" y1="228" x2="752.76" y2="335.51" stroke="#0000f0" stroke-width="5" stroke-linecap="round"/>
<line x1="759.42" y1="228" x2="759.42" y2="326.12" stroke="#0000f0" stroke-width="5" stroke-linecap="round"/>
<line x1="766.09" y1="228" x2="766.09" y2="323.78" stroke="#0000f0" stroke-width="5" stroke-linecap="round"/>
<line x1="772.75" y1="228" x2="772.75" y2="330.42" stroke="#0000f0" stroke-width="5" stroke-linecap="round"/>
<line x1="779.42" y1="228" x2="779.42" y2="331.93" stroke="#0000f0" stroke-width="5" stroke-linecap="round"/>
<rect x="461.4" y="236" width="2.6" height="65" fill="#8c8cff"/>
<rect x="455.1" y="226" width="1.8" height="67" fill="#4646ff"/>
<rect x="474.73" y="236" width="2.6" height="58.9" fill="#8c8cff"/>
<rect x="468.43" y="226" width="1.8" height="68.61" fill="#4646ff"/>
<rect x="488.06" y="236" width="2.6" height="65.29" fill="#8c8cff"/>
<rect x="481.76" y="226" width="1.8" height="71.41" fill="#4646ff"/>
<rect x="501.39" y="236" width="2.6" height="65.62" fill="#8c8cff"/>
<rect x="495.09" y="226" width="1.8" height="73.12" fill="#4646ff"/>
<rect x="514.72" y="236" width="2.6" height="64.35" fill="#8c8cff"/>
<rect x="508.42" y="226" width="1.8" height="73.42" fill="#4646ff"/>
<rect x="528.05" y="236" width="2.6" height="68.28" fill="#8c8cff"/>
<rect x="521.75" y="226" width="1.8" height="72" fill="#4646ff"/>
<rect x="541.38" y="236" width="2.6" height="64.09" fill="#8c8cff"/>
<rect x="535.08" y="226" width="1.8" height="74.08" fill="#4646ff"/>
<rect x="554.71" y="236" width="2.6" height="71.92" fill="#8c8cff"/>
<rect x="548.41" y="226" width="1.8" height="76.47" fill="#4646ff"/>
<rect x="568.04" y="236" width="2.6" height="73.33" fill="#8c8cff"/>
<rect x="561.74" y="226" width="1.8" height="81.95" fill="#4646ff"/>
<rect x="585.47" y="236" width="2.4" height="33.16" fill="#9a9aff"/>
<rect x="579.67" y="224" width="2.8" height="92.04" fill="#4646ff"/>
<rect x="598.8" y="236" width="2.4" height="44.5" fill="#9a9aff"/>
<rect x="593" y="224" width="2.8" height="90.46" fill="#4646ff"/>
<rect x="612.13" y="236" width="2.4" height="51.87" fill="#9a9aff"/>
<rect x="606.33" y="224" width="2.8" height="89.07" fill="#4646ff"/>
<rect x="625.46" y="236" width="2.4" height="35.77" fill="#9a9aff"/>
<rect x="619.66" y="224" width="2.8" height="91.12" fill="#4646ff"/>
<rect x="638.79" y="236" width="2.4" height="38.81" fill="#9a9aff"/>
<rect x="632.99" y="224" width="2.8" height="91.42" fill="#4646ff"/>
<rect x="652.12" y="236" width="2.4" height="52.95" fill="#9a9aff"/>
<rect x="646.32" y="224" width="2.8" height="95.26" fill="#4646ff"/>
<rect x="665.45" y="236" width="2.4" height="40.76" fill="#9a9aff"/>
<rect x="659.65" y="224" width="2.8" height="99.9" fill="#4646ff"/>
<rect x="678.78" y="236" width="2.4" height="34.5" fill="#9a9aff"/>
<rect x="672.98" y="224" width="2.8" height="101" fill="#4646ff"/>
<rect x="692.11" y="236" width="2.4" height="50.73" fill="#9a9aff"/>
<rect x="686.31" y="224" width="2.8" height="104.65" fill="#4646ff"/>
<rect x="705.44" y="236" width="2.4" height="46.5" fill="#9a9aff"/>
<rect x="699.64" y="224" width="2.8" height="105.63" fill="#4646ff"/>
<rect x="718.77" y="236" width="2.4" height="33" fill="#9a9aff"/>
<rect x="712.97" y="224" width="2.8" height="108.42" fill="#4646ff"/>
<rect x="732.1" y="236" width="2.4" height="45.96" fill="#9a9aff"/>
<rect x="726.3" y="224" width="2.8" height="107.95" fill="#4646ff"/>
<rect x="745.43" y="236" width="2.4" height="51.08" fill="#9a9aff"/>
<rect x="739.63" y="224" width="2.8" height="106.29" fill="#4646ff"/>
<rect x="758.76" y="236" width="2.4" height="34.81" fill="#9a9aff"/>
<rect x="752.96" y="224" width="2.8" height="93.5" fill="#4646ff"/>
<rect x="772.09" y="236" width="2.4" height="40.21" fill="#9a9aff"/>
<rect x="766.29" y="224" width="2.8" height="95.02" fill="#4646ff"/>
<rect x="785.42" y="236" width="2.4" height="52.99" fill="#9a9aff"/>
<rect x="779.62" y="224" width="2.8" height="101" fill="#4646ff"/>
<line x1="467.1" y1="47" x2="467.1" y2="120" stroke="#0000f0" stroke-width="3.2" stroke-linecap="round"/>
<line x1="480.39" y1="47" x2="480.39" y2="120" stroke="#0000f0" stroke-width="3.2" stroke-linecap="round"/>
<line x1="493.69" y1="47" x2="493.69" y2="120" stroke="#0000f0" stroke-width="3.2" stroke-linecap="round"/>
<line x1="506.98" y1="47" x2="506.98" y2="120" stroke="#0000f0" stroke-width="3.2" stroke-linecap="round"/>
<line x1="520.27" y1="47" x2="520.27" y2="120" stroke="#0000f0" stroke-width="3.2" stroke-linecap="round"/>
<line x1="533.56" y1="47" x2="533.56" y2="120" stroke="#0000f0" stroke-width="3.2" stroke-linecap="round"/>
<line x1="546.86" y1="47" x2="546.86" y2="120" stroke="#0000f0" stroke-width="3.2" stroke-linecap="round"/>
<line x1="560.15" y1="47" x2="560.15" y2="120" stroke="#0000f0" stroke-width="3.2" stroke-linecap="round"/>
<line x1="573.44" y1="47" x2="573.44" y2="120" stroke="#0000f0" stroke-width="3.2" stroke-linecap="round"/>
<line x1="586.02" y1="47" x2="586.02" y2="120" stroke="#0000f0" stroke-width="3.2" stroke-linecap="round"/>
<line x1="598.6" y1="47" x2="598.6" y2="120" stroke="#0000f0" stroke-width="3.2" stroke-linecap="round"/>
<line x1="611.5" y1="47" x2="611.5" y2="120" stroke="#0000f0" stroke-width="3.2" stroke-linecap="round"/>
<line x1="624.4" y1="47" x2="624.4" y2="120" stroke="#0000f0" stroke-width="3.2" stroke-linecap="round"/>
<line x1="637.3" y1="47" x2="637.3" y2="120" stroke="#0000f0" stroke-width="3.2" stroke-linecap="round"/>
<line x1="650.21" y1="47" x2="650.21" y2="120" stroke="#0000f0" stroke-width="3.2" stroke-linecap="round"/>
<line x1="663.11" y1="47" x2="663.11" y2="120" stroke="#0000f0" stroke-width="3.2" stroke-linecap="round"/>
<line x1="676.01" y1="47" x2="676.01" y2="120" stroke="#0000f0" stroke-width="3.2" stroke-linecap="round"/>
<line x1="688.91" y1="47" x2="688.91" y2="120" stroke="#0000f0" stroke-width="3.2" stroke-linecap="round"/>
<line x1="701.84" y1="47" x2="701.84" y2="120" stroke="#0000f0" stroke-width="3.47" stroke-linecap="round"/>
<line x1="714.77" y1="47" x2="714.77" y2="120" stroke="#0000f0" stroke-width="3.73" stroke-linecap="round"/>
<line x1="727.7" y1="47" x2="727.7" y2="120" stroke="#0000f0" stroke-width="4" stroke-linecap="round"/>
<line x1="740.98" y1="47" x2="740.98" y2="120" stroke="#0000f0" stroke-width="4" stroke-linecap="round"/>
<line x1="754.26" y1="47" x2="754.26" y2="120" stroke="#0000f0" stroke-width="4" stroke-linecap="round"/>
<line x1="767.54" y1="47" x2="767.54" y2="120" stroke="#0000f0" stroke-width="4" stroke-linecap="round"/>
<line x1="780.82" y1="47" x2="780.82" y2="120" stroke="#0000f0" stroke-width="4" stroke-linecap="round"/>
<line x1="465.3" y1="47" x2="465.3" y2="226" stroke="#ee0814" stroke-width="4.5" stroke-linecap="round"/>
<rect x="461.7" y="222" width="7" height="14" fill="#ee0814" rx="2.5"/>
<line x1="478.63" y1="47" x2="478.63" y2="226" stroke="#ee0814" stroke-width="4.5" stroke-linecap="round"/>
<rect x="475.03" y="222" width="7" height="14" fill="#ee0814" rx="2.5"/>
<line x1="491.96" y1="47" x2="491.96" y2="226" stroke="#ee0814" stroke-width="4.5" stroke-linecap="round"/>
<rect x="488.36" y="222" width="7" height="14" fill="#ee0814" rx="2.5"/>
<line x1="505.29" y1="47" x2="505.29" y2="226" stroke="#ee0814" stroke-width="4.5" stroke-linecap="round"/>
<rect x="501.69" y="222" width="7" height="14" fill="#ee0814" rx="2.5"/>
<line x1="518.62" y1="47" x2="518.62" y2="226" stroke="#ee0814" stroke-width="4.5" stroke-linecap="round"/>
<rect x="515.02" y="222" width="7" height="14" fill="#ee0814" rx="2.5"/>
<line x1="531.95" y1="47" x2="531.95" y2="226" stroke="#ee0814" stroke-width="4.5" stroke-linecap="round"/>
<rect x="528.35" y="222" width="7" height="14" fill="#ee0814" rx="2.5"/>
<line x1="545.28" y1="47" x2="545.28" y2="226" stroke="#ee0814" stroke-width="4.5" stroke-linecap="round"/>
<rect x="541.68" y="222" width="7" height="14" fill="#ee0814" rx="2.5"/>
<line x1="558.61" y1="47" x2="558.61" y2="226" stroke="#ee0814" stroke-width="4.5" stroke-linecap="round"/>
<rect x="555.01" y="222" width="7" height="14" fill="#ee0814" rx="2.5"/>
<line x1="571.94" y1="47" x2="571.94" y2="226" stroke="#ee0814" stroke-width="4.5" stroke-linecap="round"/>
<rect x="568.34" y="222" width="7" height="14" fill="#ee0814" rx="2.5"/>
<line x1="585.27" y1="47" x2="585.27" y2="226" stroke="#ee0814" stroke-width="4.5" stroke-linecap="round"/>
<rect x="581.67" y="222" width="7" height="14" fill="#ee0814" rx="2.5"/>
<line x1="598.6" y1="47" x2="598.6" y2="226" stroke="#ee0814" stroke-width="4.5" stroke-linecap="round"/>
<rect x="595" y="222" width="7" height="14" fill="#ee0814" rx="2.5"/>
<line x1="611.93" y1="47" x2="611.93" y2="226" stroke="#ee0814" stroke-width="4.5" stroke-linecap="round"/>
<rect x="608.33" y="222" width="7" height="14" fill="#ee0814" rx="2.5"/>
<line x1="625.26" y1="47" x2="625.26" y2="226" stroke="#ee0814" stroke-width="4.5" stroke-linecap="round"/>
<rect x="621.66" y="222" width="7" height="14" fill="#ee0814" rx="2.5"/>
<line x1="638.59" y1="47" x2="638.59" y2="226" stroke="#ee0814" stroke-width="4.5" stroke-linecap="round"/>
<rect x="634.99" y="222" width="7" height="14" fill="#ee0814" rx="2.5"/>
<line x1="651.92" y1="47" x2="651.92" y2="226" stroke="#ee0814" stroke-width="4.5" stroke-linecap="round"/>
<rect x="648.32" y="222" width="7" height="14" fill="#ee0814" rx="2.5"/>
<line x1="665.25" y1="47" x2="665.25" y2="226" stroke="#ee0814" stroke-width="4.5" stroke-linecap="round"/>
<rect x="661.65" y="222" width="7" height="14" fill="#ee0814" rx="2.5"/>
<line x1="678.58" y1="47" x2="678.58" y2="226" stroke="#ee0814" stroke-width="4.5" stroke-linecap="round"/>
<rect x="674.98" y="222" width="7" height="14" fill="#ee0814" rx="2.5"/>
<line x1="691.91" y1="47" x2="691.91" y2="226" stroke="#ee0814" stroke-width="4.5" stroke-linecap="round"/>
<rect x="688.31" y="222" width="7" height="14" fill="#ee0814" rx="2.5"/>
<line x1="705.24" y1="47" x2="705.24" y2="226" stroke="#ee0814" stroke-width="4.5" stroke-linecap="round"/>
<rect x="701.64" y="222" width="7" height="14" fill="#ee0814" rx="2.5"/>
<line x1="718.57" y1="47" x2="718.57" y2="226" stroke="#ee0814" stroke-width="4.5" stroke-linecap="round"/>
<rect x="714.97" y="222" width="7" height="14" fill="#ee0814" rx="2.5"/>
<line x1="731.9" y1="47" x2="731.9" y2="226" stroke="#ee0814" stroke-width="4.5" stroke-linecap="round"/>
<rect x="728.3" y="222" width="7" height="14" fill="#ee0814" rx="2.5"/>
<line x1="745.23" y1="47" x2="745.23" y2="226" stroke="#ee0814" stroke-width="4.5" stroke-linecap="round"/>
<rect x="741.63" y="222" width="7" height="14" fill="#ee0814" rx="2.5"/>
<line x1="758.56" y1="47" x2="758.56" y2="226" stroke="#ee0814" stroke-width="4.5" stroke-linecap="round"/>
<rect x="754.96" y="222" width="7" height="14" fill="#ee0814" rx="2.5"/>
<line x1="771.89" y1="47" x2="771.89" y2="226" stroke="#ee0814" stroke-width="4.5" stroke-linecap="round"/>
<rect x="768.29" y="222" width="7" height="14" fill="#ee0814" rx="2.5"/>
<line x1="785.22" y1="47" x2="785.22" y2="226" stroke="#ee0814" stroke-width="4.5" stroke-linecap="round"/>
<rect x="781.62" y="222" width="7" height="14" fill="#ee0814" rx="2.5"/>
<rect x="456.5" y="197.5" width="329.5" height="27" fill="#e40a24"/>
<rect x="467.2" y="198.5" width="2.7" height="25" fill="#b01068"/>
<rect x="480.53" y="198.5" width="2.7" height="25" fill="#b01068"/>
<rect x="493.86" y="198.5" width="2.7" height="25" fill="#b01068"/>
<rect x="507.19" y="198.5" width="2.7" height="25" fill="#b01068"/>
<rect x="520.52" y="198.5" width="2.7" height="25" fill="#b01068"/>
<rect x="533.85" y="198.5" width="2.7" height="25" fill="#b01068"/>
<rect x="547.18" y="198.5" width="2.7" height="25" fill="#b01068"/>
<rect x="560.51" y="198.5" width="2.7" height="25" fill="#b01068"/>
<rect x="573.84" y="198.5" width="2.7" height="25" fill="#b01068"/>
<rect x="587.17" y="198.5" width="2.7" height="25" fill="#b01068"/>
<rect x="600.5" y="198.5" width="2.7" height="25" fill="#b01068"/>
<rect x="613.83" y="198.5" width="2.7" height="25" fill="#b01068"/>
<rect x="627.16" y="198.5" width="2.7" height="25" fill="#b01068"/>
<rect x="640.49" y="198.5" width="2.7" height="25" fill="#b01068"/>
<rect x="653.82" y="198.5" width="2.7" height="25" fill="#b01068"/>
<rect x="667.15" y="198.5" width="2.7" height="25" fill="#b01068"/>
<rect x="680.48" y="198.5" width="2.7" height="25" fill="#b01068"/>
<rect x="693.81" y="198.5" width="2.7" height="25" fill="#b01068"/>
<rect x="707.14" y="198.5" width="2.7" height="25" fill="#b01068"/>
<rect x="720.47" y="198.5" width="2.7" height="25" fill="#b01068"/>
<rect x="733.8" y="198.5" width="2.7" height="25" fill="#b01068"/>
<rect x="747.13" y="198.5" width="2.7" height="25" fill="#b01068"/>
<rect x="760.46" y="198.5" width="2.7" height="25" fill="#b01068"/>
<rect x="773.79" y="198.5" width="2.7" height="25" fill="#b01068"/>
<line x1="445.3" y1="72" x2="445.3" y2="200" stroke="#0000f0" stroke-width="2.8" stroke-linecap="round"/>
<path d="M444,15.3 L130.5,15.3 L130.5,406.3 L444,406.3" fill="none" stroke="#000" stroke-width="4.5" stroke-linejoin="miter"/>
<path d="M458,15.3 L787.2,15.3 L787.2,406.3 L462,406.3" fill="none" stroke="#000" stroke-width="4.5" stroke-linejoin="miter"/>
<line x1="440.7" y1="25.6" x2="453.5" y2="4.6" stroke="#000" stroke-width="4" stroke-linecap="round"/>
<line x1="450.5" y1="25.6" x2="463.5" y2="4.6" stroke="#000" stroke-width="4" stroke-linecap="round"/>
<line x1="440" y1="417" x2="452.5" y2="397" stroke="#000" stroke-width="4" stroke-linecap="round"/>
<line x1="451.2" y1="417.5" x2="463.4" y2="396.5" stroke="#000" stroke-width="4" stroke-linecap="round"/>
<line x1="119" y1="47.6" x2="130" y2="47.6" stroke="#000" stroke-width="4" stroke-linecap="round"/>
<line x1="119" y1="88.35" x2="130" y2="88.35" stroke="#000" stroke-width="4" stroke-linecap="round"/>
<line x1="119" y1="129.1" x2="130" y2="129.1" stroke="#000" stroke-width="4" stroke-linecap="round"/>
<line x1="119" y1="169.85" x2="130" y2="169.85" stroke="#000" stroke-width="4" stroke-linecap="round"/>
<line x1="119" y1="210.6" x2="130" y2="210.6" stroke="#000" stroke-width="4" stroke-linecap="round"/>
<line x1="119" y1="251.35" x2="130" y2="251.35" stroke="#000" stroke-width="4" stroke-linecap="round"/>
<line x1="119" y1="292.1" x2="130" y2="292.1" stroke="#000" stroke-width="4" stroke-linecap="round"/>
<line x1="119" y1="332.85" x2="130" y2="332.85" stroke="#000" stroke-width="4" stroke-linecap="round"/>
<line x1="119" y1="373.6" x2="130" y2="373.6" stroke="#000" stroke-width="4" stroke-linecap="round"/>
<line x1="145.3" y1="406" x2="145.3" y2="417" stroke="#000" stroke-width="4" stroke-linecap="round"/>
<line x1="220.6" y1="406" x2="220.6" y2="417" stroke="#000" stroke-width="4" stroke-linecap="round"/>
<line x1="295.8" y1="406" x2="295.8" y2="417" stroke="#000" stroke-width="4" stroke-linecap="round"/>
<line x1="371.2" y1="406" x2="371.2" y2="417" stroke="#000" stroke-width="4" stroke-linecap="round"/>
<line x1="540" y1="406" x2="540" y2="417" stroke="#000" stroke-width="4" stroke-linecap="round"/>
<line x1="621.6" y1="406" x2="621.6" y2="417" stroke="#000" stroke-width="4" stroke-linecap="round"/>
<line x1="703.6" y1="406" x2="703.6" y2="417" stroke="#000" stroke-width="4" stroke-linecap="round"/>
<line x1="787.2" y1="406" x2="787.2" y2="417.5" stroke="#000" stroke-width="4.5" stroke-linecap="round"/>
<line x1="456.8" y1="408" x2="456.8" y2="416" stroke="#000" stroke-width="3.5" stroke-linecap="round"/>
<rect x="143.5" y="12.8" width="5.2" height="4.8" fill="#ee0814"/>
<line x1="194.5" y1="326.4" x2="248" y2="326.4" stroke="#0505d0" stroke-width="5" stroke-linecap="round"/>
<line x1="194.5" y1="369.5" x2="248" y2="369.5" stroke="#d00c10" stroke-width="5" stroke-linecap="round"/>
<path d="M840,145.5 L848.9,145.5 M848.9,25.8 L848.9,171 M848.9,157 Q855.9,155 862.9,157.5 Q865.4,158.5 866.6,161 L866.9,161 L866.9,143 Q868.4,142 869.9,144.5 Q874.9,146.5 881.43,145.8 L884.43,145.2 M884.43,25.8 L884.43,171 M884.43,157 Q891.43,155 898.43,157.5 Q900.93,158.5 902.13,161 L902.43,161 L902.43,143 Q903.93,142 905.43,144.5 Q910.43,146.5 916.96,145.8 L919.96,145.2 M919.96,25.8 L919.96,171 M919.96,157 Q926.96,155 933.96,157.5 Q936.46,158.5 937.66,161 L937.96,161 L937.96,143 Q939.46,142 940.96,144.5 Q945.96,146.5 952.49,145.8 L955.49,145.2 M955.49,25.8 L955.49,171 M955.49,157 Q962.49,155 969.49,157.5 Q971.99,158.5 973.19,161 L973.49,161 L973.49,143 Q974.99,142 976.49,144.5 Q981.49,146.5 988.02,145.8 L991.02,145.2 M991.02,25.8 L991.02,171 M991.02,157 Q998.02,155 1005.02,157.5 Q1007.52,158.5 1008.72,161 L1009.02,161 L1009.02,143 Q1010.52,142 1012.02,144.5 Q1017.02,146.5 1023.55,145.8 L1026.55,145.2 M1026.55,25.8 L1026.55,171 M1026.55,157 Q1033.55,155 1040.55,157.5 Q1043.05,158.5 1044.25,161 L1044.55,161 L1044.55,143 Q1046.05,142 1047.55,144.5 Q1052.55,146.5 1059.08,145.8 L1062.08,145.2 M1062.08,25.8 L1062.08,171 M1062.08,157 Q1069.08,155 1076.08,157.5 Q1078.58,158.5 1079.78,161 L1080.08,161 L1080.08,143 Q1081.58,142 1083.08,144.5 Q1088.08,146.5 1094.61,145.8 L1097.61,145.2 M1097.61,25.8 L1097.61,171 M1097.61,157 Q1104.61,155 1111.61,157.5 Q1114.11,158.5 1115.31,161 L1115.61,161 L1115.61,143 Q1117.11,142 1118.61,144.5 Q1123.61,146.5 1130.14,145.8 L1133.14,145.2 M1133.14,25.8 L1133.14,171 M1133.14,157 Q1140.14,155 1147.14,157.5 Q1149.64,158.5 1150.84,161 L1151.14,161 L1151.14,143 Q1152.64,142 1154.14,144.5 Q1159.14,146.5 1165.67,145.8 L1168.67,145.2 M1168.67,25.8 L1168.67,171 M1168.67,157 Q1175.67,155 1182.67,157.5 Q1185.17,158.5 1186.37,161 L1186.67,161 L1186.67,143 Q1188.17,142 1189.67,144.5 Q1194.67,146.5 1201.2,145.8 L1204.2,145.2 M1204.2,25.8 L1204.2,171 M1204.2,157 Q1211.2,155 1218.2,157.5 Q1220.7,158.5 1221.9,161 L1222.2,161 L1222.2,143 Q1223.7,142 1225.2,144.5 Q1230.2,146.5 1236.73,145.8 L1239.73,145.2 M1239.73,25.8 L1239.73,171 M1239.73,157 Q1246.73,155 1253.73,157.5 Q1256.23,158.5 1257.43,161 L1257.73,161 L1257.73,143 Q1259.23,142 1260.73,144.5 Q1265.73,146.5 1272.26,145.8 L1275.26,145.2 M1275.26,25.8 L1275.26,171 M1275.26,157 Q1282.26,155 1289.26,157.5 Q1291.76,158.5 1292.96,161 L1293.26,161 L1293.26,143 Q1294.76,142 1296.26,144.5 Q1301.26,146.5 1280,145.8 L1280,145.2" fill="none" stroke="#da2028" stroke-width="2.8" stroke-linejoin="round"/>
<path d="M836.2,279 Q838.5,269 840.8,265 M840.8,209.7 L840.8,422.3 M840.8,399 Q843.3,392 846.8,392 C851.8,393 857.8,406 858.8,425.8 L858.8,249.9 C859.4,269.3 861.8,279.3 866.8,279.3 C870.8,279.3 875.42,275.3 876.42,267.3 M876.42,209.7 L876.42,424 M876.42,399.9 Q878.92,392.9 882.42,392.9 C887.42,393.9 893.42,406.9 894.42,425.8 L894.42,250.8 C895.02,268.5 897.42,278.5 902.42,278.5 C906.42,278.5 911.04,274.5 912.04,266.5 M912.04,209.7 L912.04,424 M912.04,400.7 Q914.54,393.7 918.04,393.7 C923.04,394.7 929.04,407.7 930.04,430 L930.04,246.5 C930.64,265.9 933.04,275.9 938.04,275.9 C942.04,275.9 946.66,271.9 947.66,263.9 M947.66,209.7 L947.66,427.5 M947.66,403.3 Q950.16,396.3 953.66,396.3 C958.66,397.3 964.66,410.3 965.66,433.5 L965.66,243.9 C966.26,263.3 968.66,273.3 973.66,273.3 C977.66,273.3 982.28,269.3 983.28,261.3 M983.28,209.7 L983.28,429.2 M983.28,405.9 Q985.78,398.9 989.28,398.9 C994.28,399.9 1000.28,412.9 1001.28,433.5 L1001.28,242.2 C1001.88,263.3 1004.28,273.3 1009.28,273.3 C1013.28,273.3 1017.9,269.3 1018.9,261.3 M1018.9,209.7 L1018.9,430 M1018.9,407.6 Q1021.4,400.6 1024.9,400.6 C1029.9,401.6 1035.9,414.6 1036.9,437.8 L1036.9,238.7 C1037.5,262.5 1039.9,272.5 1044.9,272.5 C1048.9,272.5 1053.52,268.5 1054.52,260.5 M1054.52,209.7 L1054.52,431.5 M1054.52,408.6 Q1057.02,401.6 1060.52,401.6 C1065.52,402.6 1071.52,415.6 1072.52,436.9 L1072.52,239.6 C1073.12,260.8 1075.52,270.8 1080.52,270.8 C1084.52,270.8 1089.14,266.8 1090.14,258.8 M1090.14,209.7 L1090.14,432.4 M1090.14,406.8 Q1092.64,399.8 1096.14,399.8 C1101.14,400.8 1107.14,413.8 1108.14,440.5 L1108.14,235.3 C1108.74,259 1111.14,269 1116.14,269 C1120.14,269 1124.76,265 1125.76,257 M1125.76,209.7 L1125.76,431.5 M1125.76,408.6 Q1128.26,401.6 1131.76,401.6 C1136.76,402.6 1142.76,415.6 1143.76,437.8 L1143.76,238.7 C1144.36,259 1146.76,269 1151.76,269 C1155.76,269 1160.38,265 1161.38,257 M1161.38,209.7 L1161.38,433.3 M1161.38,410.4 Q1163.88,403.4 1167.38,403.4 C1172.38,404.4 1178.38,417.4 1179.38,437.8 L1179.38,238.7 C1179.98,259 1182.38,269 1187.38,269 C1191.38,269 1196,265 1197,257 M1197,209.7 L1197,435.1 M1197,402.3 Q1199.5,395.3 1203,395.3 C1208,396.3 1214,409.3 1215,421.5 L1215,253.4 C1215.6,264.2 1218,274.2 1223,274.2 C1227,274.2 1231.62,270.2 1232.62,262.2 M1232.62,209.7 L1232.62,427.9 M1232.62,405 Q1235.12,398 1238.62,398 C1243.62,399 1249.62,412 1250.62,429.7 L1250.62,246.5 C1251.22,263.3 1253.62,273.3 1258.62,273.3 C1262.62,273.3 1267.24,269.3 1268.24,261.3 M1268.24,209.7 L1268.24,432.4 M1268.24,403.7 Q1270.74,400.7 1274.24,400.7 L1281,401.7" fill="none" stroke="#2828d2" stroke-width="3.3" stroke-linejoin="round" stroke-linecap="round"/>
<path d="M646.2,217.2 L829.5,151.8 M806.5,149.5 L829.5,151.8 L813.3,169.3" fill="none" stroke="#1c7e3e" stroke-width="4.8" stroke-linecap="round" stroke-linejoin="round"/>
<path d="M658.6,272.3 L839.5,324.8 M824.4,310.5 L839.5,324.8 L818.8,330" fill="none" stroke="#1c7e3e" stroke-width="4.8" stroke-linecap="round" stroke-linejoin="round"/>
<text x="105" y="66.2" font-size="33" text-anchor="end" font-family="'Liberation Sans', Arial, sans-serif" font-weight="bold" >0.10</text>
<text x="105" y="147.6" font-size="33" text-anchor="end" font-family="'Liberation Sans', Arial, sans-serif" font-weight="bold" >0.05</text>
<text x="105" y="229.4" font-size="33" text-anchor="end" font-family="'Liberation Sans', Arial, sans-serif" font-weight="bold" >0.00</text>
<text x="105" y="311.0" font-size="33" text-anchor="end" font-family="'Liberation Sans', Arial, sans-serif" font-weight="bold" >-0.05</text>
<text x="105" y="392.4" font-size="33" text-anchor="end" font-family="'Liberation Sans', Arial, sans-serif" font-weight="bold" >-0.10</text>
<text x="145.3" y="449.2" font-size="33" text-anchor="middle" font-family="'Liberation Sans', Arial, sans-serif" font-weight="bold" >0</text>
<text x="295.8" y="449.2" font-size="33" text-anchor="middle" font-family="'Liberation Sans', Arial, sans-serif" font-weight="bold" >200</text>
<text x="458.5" y="449.2" font-size="33" text-anchor="middle" font-family="'Liberation Sans', Arial, sans-serif" font-weight="bold" >1000</text>
<text x="621.6" y="449.2" font-size="33" text-anchor="middle" font-family="'Liberation Sans', Arial, sans-serif" font-weight="bold" >1200</text>
<text x="786" y="449.2" font-size="33" text-anchor="middle" font-family="'Liberation Sans', Arial, sans-serif" font-weight="bold" >1400</text>
<text x="347" y="494.4" font-size="33" text-anchor="start" font-family="'Liberation Sans', Arial, sans-serif" font-weight="bold" textLength="139" lengthAdjust="spacingAndGlyphs">Time (h)</text>
<text transform="translate(29.5,306) rotate(-90)" x="0" y="0" font-size="32" font-family="'Liberation Sans', Arial, sans-serif" font-weight="bold" textLength="181" lengthAdjust="spacingAndGlyphs">Voltage (V)</text>
<text x="256" y="334.5" font-size="28" text-anchor="start" font-family="'Liberation Sans', Arial, sans-serif" font-weight="bold" >3TFSI</text>
<text x="256" y="377.5" font-size="28" text-anchor="start" font-family="'Liberation Sans', Arial, sans-serif" font-weight="bold" >2FSI+1TFSI</text>
</svg>
</body></html>
